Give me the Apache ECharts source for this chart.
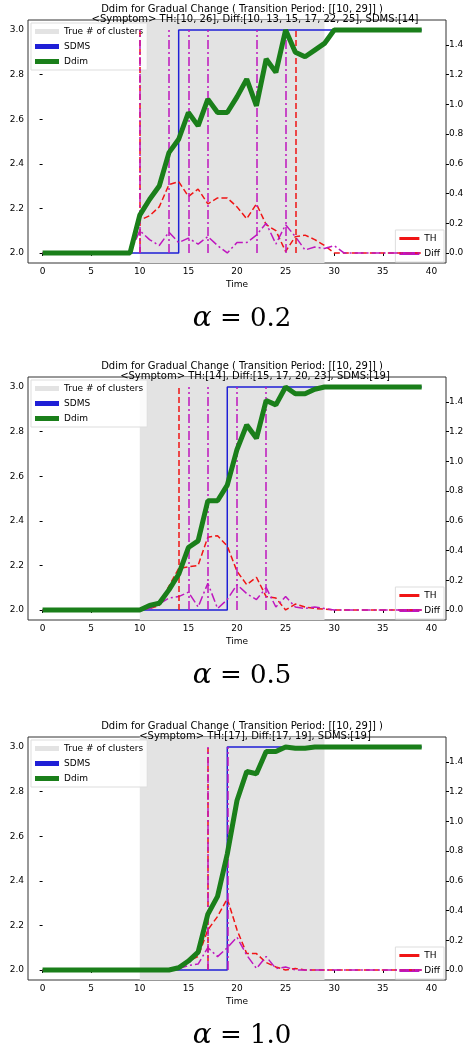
<!DOCTYPE html>
<html>
<head>
<meta charset="utf-8">
<script src="https://cdn.jsdelivr.net/npm/echarts@6/dist/echarts.min.js"></script>
<style>
  html, body { margin: 0; padding: 0; background: #fff; }
  #chart { width: 474px; height: 1047px; }
</style>
</head>
<body>
<div id="chart"></div>
<script>
const chart = echarts.init(document.getElementById('chart'));

// Shared data
const timeSteps = Array.from({ length: 40 }, (_, i) => i);
const transition = [10, 29];
const alphas = ['0.2', '0.5', '1.0'];
const xTicks = [0, 5, 10, 15, 20, 25, 30, 35, 40];
const leftTicks = [2.0, 2.2, 2.4, 2.6, 2.8, 3.0];
const rightTicks = [0, 0.2, 0.4, 0.6, 0.8, 1.0, 1.2, 1.4];
const symptomText = [
  '<Symptom> TH:[10, 26], Diff:[10, 13, 15, 17, 22, 25], SDMS:[14]',
  '<Symptom> TH:[14], Diff:[15, 17, 20, 23], SDMS:[19]',
  '<Symptom> TH:[17], Diff:[17, 19], SDMS:[19]'
];

// Per-panel values (index = time step 0..39)
const ddim1 = [2,2,2,2,2,2,2,2,2,2, 2.17,2.24,2.30,2.45,2.51,2.63,2.57,2.69,2.63,2.63,
  2.70,2.78,2.66,2.87,2.81,3.0,2.90,2.88,2.91,2.94, 3,3,3,3,3,3,3,3,3,3];
const th1 = [0,0,0,0,0,0,0,0,0,0, 0.22,0.25,0.31,0.46,0.48,0.38,0.43,0.33,0.37,0.37,
  0.31,0.23,0.33,0.19,0.15,0.01,0.11,0.12,0.09,0.05, 0,0,0,0,0,0,0,0,0,0];
const diff1 = [0,0,0,0,0,0,0,0,0,0, 0.15,0.09,0.05,0.14,0.07,0.10,0.06,0.11,0.05,0,
  0.07,0.07,0.12,0.20,0.06,0.19,0.11,0.02,0.04,0.03, 0.05,0,0,0,0,0,0,0,0,0];
const sdms1 = 14, thMarks1 = [10, 26], diffMarks1 = [10, 13, 15, 17, 22, 25];

const ddim2 = [2,2,2,2,2,2,2,2,2,2, 2.0,2.02,2.03,2.09,2.16,2.28,2.31,2.49,2.49,2.56,
  2.72,2.83,2.77,2.94,2.92,3.0,2.97,2.97,2.99,3.0, 3,3,3,3,3,3,3,3,3,3];
const th2 = [0,0,0,0,0,0,0,0,0,0, 0,0.01,0.03,0.16,0.28,0.29,0.30,0.49,0.50,0.43,
  0.26,0.17,0.22,0.09,0.08,0.0,0.04,0.02,0.01,0.005, 0,0,0,0,0,0,0,0,0,0];
const diff2 = [0,0,0,0,0,0,0,0,0,0, 0,0.01,0.04,0.08,0.09,0.12,0.02,0.18,0.01,0.07,
  0.17,0.11,0.07,0.15,0.02,0.09,0.02,0.01,0.02,0.01, 0,0,0,0,0,0,0,0,0,0];
const sdms2 = 19, thMarks2 = [14], diffMarks2 = [15, 17, 20, 23];

const ddim3 = [2,2,2,2,2,2,2,2,2,2, 2,2,2,2.0,2.01,2.04,2.08,2.25,2.33,2.52,
  2.76,2.89,2.88,2.98,2.98,3.0,2.995,2.995,3,3, 3,3,3,3,3,3,3,3,3,3];
const th3 = [0,0,0,0,0,0,0,0,0,0, 0,0,0,0,0.01,0.06,0.09,0.27,0.36,0.48,
  0.27,0.11,0.11,0.05,0.02,0.0,0.01,0,0,0, 0,0,0,0,0,0,0,0,0,0];
const diff3 = [0,0,0,0,0,0,0,0,0,0, 0,0,0,0,0.01,0.03,0.04,0.15,0.09,0.15,
  0.22,0.10,0.01,0.09,0.01,0.02,0,0,0,0, 0,0,0,0,0,0,0,0,0,0];
const sdms3 = 19, thMarks3 = [17], diffMarks3 = [17, 19];

const panels = [
  { ddim: ddim1, th: th1, diff: diff1, sdms: sdms1, thMarks: thMarks1, diffMarks: diffMarks1 },
  { ddim: ddim2, th: th2, diff: diff2, sdms: sdms2, thMarks: thMarks2, diffMarks: diffMarks2 },
  { ddim: ddim3, th: th3, diff: diff3, sdms: sdms3, thMarks: thMarks3, diffMarks: diffMarks3 }
];

const gridTops = [20, 377, 737];
const plotH = 243;
const font = 'DejaVu Sans';
const dashDot = [9, 3, 2, 3];
const tickStyle = { lineStyle: { color: '#000' }, length: 3 };

const option = {
  backgroundColor: '#fff',
  animation: false,
  textStyle: { fontFamily: font },
  title: [], legend: [], grid: [], xAxis: [], yAxis: [], series: []
};

panels.forEach((p, i) => {
  const top = gridTops[i];
  const ax = i * 2;

  option.title.push(
    { text: 'Ddim for Gradual Change ( Transition Period: [[10, 29]] )', left: 237, textAlign: 'center',
      top: top - 21, textStyle: { fontSize: 10, fontWeight: 'normal', color: '#000' } },
    { text: symptomText[i], left: 250, textAlign: 'center', top: top - 11,
      textStyle: { fontSize: 10, fontWeight: 'normal', color: '#000' } },
    { text: '{a|α} = ' + alphas[i], left: 237, textAlign: 'center', top: top + 280,
      textStyle: { fontSize: 26, fontWeight: 'normal', color: '#000', fontFamily: 'DejaVu Serif',
        rich: { a: { fontSize: 28, fontStyle: 'italic', fontFamily: 'DejaVu Serif' } } } }
  );

  option.grid.push({ left: 28, right: 28, top: top, height: plotH, outerBoundsMode: 'none',
    containLabel: false, show: true, borderColor: '#333', borderWidth: 1 });

  option.xAxis.push({
    type: 'value', gridIndex: i, min: -1.5, max: 41.5,
    name: 'Time', nameLocation: 'middle', nameGap: 17, nameTextStyle: { fontSize: 9, color: '#000' },
    axisLine: { show: false }, splitLine: { show: false },
    axisTick: Object.assign({ customValues: xTicks }, tickStyle),
    axisLabel: { fontSize: 9, color: '#000', margin: 4, customValues: xTicks }
  });

  option.yAxis.push(
    { type: 'value', gridIndex: i, min: 1.955, max: 3.045, position: 'left',
      name: 'SDMS / Ddim', nameLocation: 'middle', nameGap: 20, nameTextStyle: { fontSize: 9, color: '#000' },
      axisLine: { show: false }, splitLine: { show: false },
      axisTick: Object.assign({ customValues: leftTicks }, tickStyle),
      axisLabel: { fontSize: 9, color: '#000', margin: 4, customValues: leftTicks,
        formatter: v => v.toFixed(1) } },
    { type: 'value', gridIndex: i, min: -0.0675, max: 1.5675, position: 'right',
      name: 'TH / Diff', nameLocation: 'middle', nameGap: 21, nameTextStyle: { fontSize: 9, color: '#000' },
      axisLine: { show: false }, splitLine: { show: false },
      axisTick: Object.assign({ customValues: rightTicks }, tickStyle),
      axisLabel: { fontSize: 9, color: '#000', margin: 3, customValues: rightTicks,
        formatter: v => v.toFixed(1) } }
  );

  const trueName = 'True # of clusters';
  option.series.push(
    { name: trueName, type: 'line', xAxisIndex: i, yAxisIndex: ax, data: [], symbol: 'none',
      color: '#e3e3e3', z: 0,
      markArea: { silent: true, itemStyle: { color: '#e3e3e3' },
        data: [[{ xAxis: transition[0] }, { xAxis: transition[1] }]] } },
    { name: 'SDMS', type: 'line', xAxisIndex: i, yAxisIndex: ax, symbol: 'none', color: '#1f1fd6',
      lineStyle: { width: 1.5 }, z: 3,
      data: [[0, 2], [p.sdms, 2], [p.sdms, 3], [39, 3]] },
    { name: 'TH', type: 'line', xAxisIndex: i, yAxisIndex: ax + 1, symbol: 'none', color: '#f01515',
      lineStyle: { width: 1.5, type: [6, 3] }, z: 4,
      data: timeSteps.map(t => [t, p.th[t]]),
      markLine: { silent: true, symbol: 'none', label: { show: false },
        lineStyle: { color: '#f01515', width: 1.5, type: [6, 3] },
        data: p.thMarks.map(x => [{ coord: [x, 0] }, { coord: [x, 1.5] }]) } },
    { name: 'Diff', type: 'line', xAxisIndex: i, yAxisIndex: ax + 1, symbol: 'none', color: '#bf17bf',
      lineStyle: { width: 1.5, type: dashDot }, z: 4,
      data: timeSteps.map(t => [t, p.diff[t]]),
      markLine: { silent: true, symbol: 'none', label: { show: false },
        lineStyle: { color: '#bf17bf', width: 1.5, type: dashDot },
        data: p.diffMarks.map(x => [{ coord: [x, 0] }, { coord: [x, 1.5] }]) } },
    { name: 'Ddim', type: 'line', xAxisIndex: i, yAxisIndex: ax, symbol: 'none', color: '#1a7f1a',
      lineStyle: { width: 5 }, z: 5,
      data: timeSteps.map(t => [t, p.ddim[t]]) }
  );

  option.legend.push(
    { data: [{ name: trueName, icon: 'rect', itemStyle: { color: '#e3e3e3' } },
             { name: 'SDMS', icon: 'rect' }, { name: 'Ddim', icon: 'rect' }],
      orient: 'vertical', left: 31, top: top + 3, itemWidth: 24, itemHeight: 5, itemGap: 6,
      backgroundColor: 'rgba(255,255,255,0.85)', borderColor: '#ddd', borderWidth: 1, padding: [4, 4],
      textStyle: { fontSize: 9, color: '#000' }, selectedMode: false },
    { data: [{ name: 'TH', icon: 'rect' }, { name: 'Diff', icon: 'rect' }],
      orient: 'vertical', right: 30, top: top + 210, itemWidth: 20, itemHeight: 3,
      itemGap: 6, backgroundColor: 'rgba(255,255,255,0.9)', borderColor: '#ddd', borderWidth: 1, padding: [4, 4],
      textStyle: { fontSize: 9, color: '#000' }, selectedMode: false }
  );
});

chart.setOption(option);
window.addEventListener('resize', () => chart.resize());
</script>
</body>
</html>
